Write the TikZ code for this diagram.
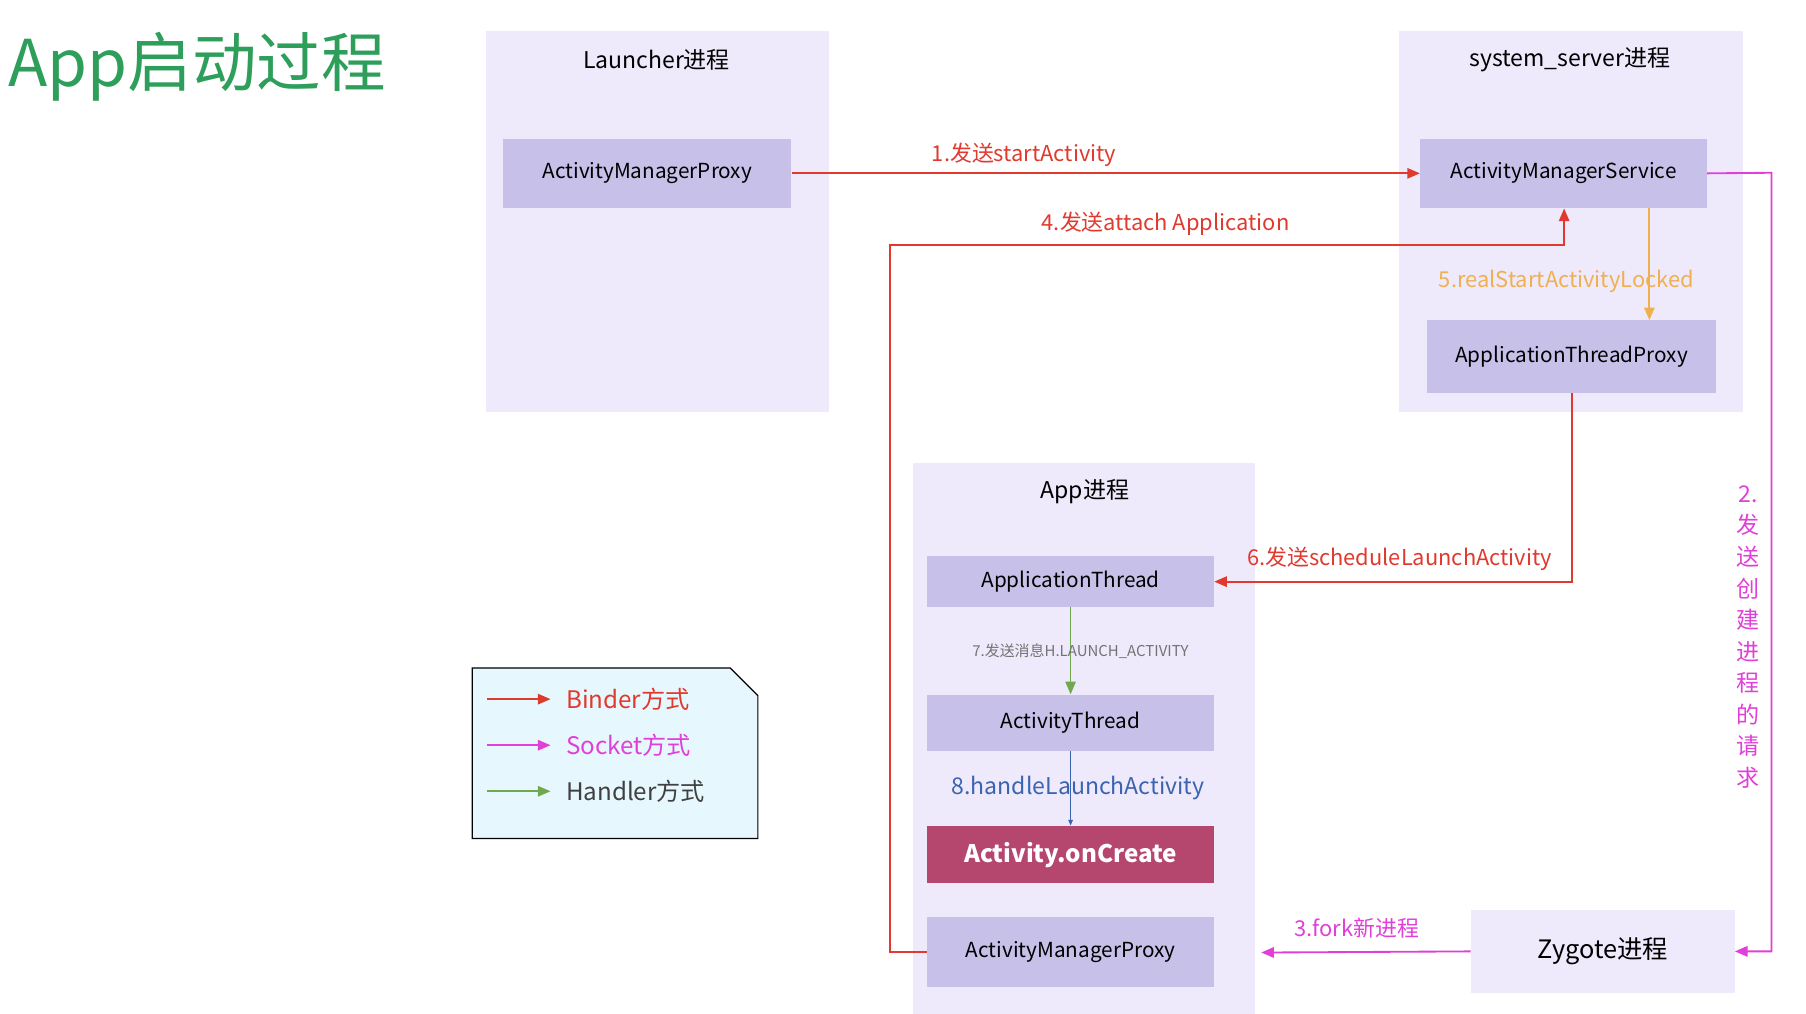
\documentclass[tikz,border=0pt]{standalone}
\usepackage{fontspec}
\setmainfont{Noto Sans CJK SC}
\usetikzlibrary{arrows.meta,shapes.misc}
\definecolor{proc}{HTML}{EEEAFB}
\definecolor{comp}{HTML}{C7C1EA}
\definecolor{bred}{HTML}{E03A2F}
\definecolor{mag}{HTML}{E040D8}
\definecolor{hgreen}{HTML}{6FA84F}
\definecolor{orng}{HTML}{F0B050}
\definecolor{hblue}{HTML}{3A63B0}
\definecolor{ttl}{HTML}{2E9E5B}
\definecolor{crt}{HTML}{B5476F}
\begin{document}
\begin{tikzpicture}[x=1pt,y=-1pt,
  box/.style={fill=proc,draw=none},
  comp/.style={fill=comp,draw=none,minimum height=60pt,minimum width=250pt,font=\fontsize{18}{20}\selectfont},
  ttl/.style={font=\fontsize{20}{22}\selectfont},
  arr/.style={-{Triangle[length=11pt,width=9pt]},line width=1.6pt},
  lbl/.style={font=\fontsize{19}{21}\selectfont}]
\useasboundingbox (0,0) rectangle (1568,880);
\fill[white] (0,0) rectangle (1568,880);
\node[text=ttl,font=\fontsize{56}{60}\selectfont,anchor=west] (title) at (4,58) {App启动过程};
% process boxes
\fill[proc] (422,27) rectangle (720,358);
\node[ttl] (l1) at (570,52) {Launcher进程};
\fill[proc] (1215,27) rectangle (1513,358);
\node[ttl] (l2) at (1363,52) {system\_server进程};
\fill[proc] (793,402) rectangle (1090,880);
\node[ttl] (l3) at (942,427) {App进程};
% components
\node[comp] (amp) at (562,150.5) {ActivityManagerProxy};
\node[comp,minimum width=249pt] (ams) at (1357.5,150.5) {ActivityManagerService};
\node[comp,minimum width=251pt,minimum height=63pt] (atp) at (1364.5,309.5) {ApplicationThreadProxy};
\node[comp,minimum width=249pt,minimum height=44pt] (at) at (929.5,505) {ApplicationThread};
\node[comp,minimum width=249pt,minimum height=49pt] (act) at (929.5,627.5) {ActivityThread};
\node[comp,fill=crt,text=white,minimum width=249pt,minimum height=50pt,font=\fontsize{21}{23}\selectfont\bfseries] (cr) at (929.5,742) {Activity.onCreate};
\node[comp,minimum width=249pt,minimum height=61pt] (amp2) at (929.5,826.5) {ActivityManagerProxy};
\node[fill=proc,minimum width=229pt,minimum height=72pt,font=\fontsize{22}{24}\selectfont] (zy) at (1391.5,826) {Zygote进程};
% arrows
\draw[arr,bred] (amp.east) -- (ams.west) node[pos=0.37,above=2pt,lbl,text=bred] {1.发送startActivity};
\coordinate (c4) at (1358,181);
\draw[arr,bred] (amp2.west) -- ++(-32,0) |- (1358,213) -- (c4);
\node[lbl,text=bred] (t4) at (1012,194) {4.发送attach Application};
\coordinate (c5a) at (1432,181);
\coordinate (c5b) at (1432,278);
\draw[arr,orng] (c5a) -- (c5b);
\node[lbl,text=orng] (t5) at (1360,244) {5.realStartActivityLocked};
\draw[arr,bred] (atp.south) |- (at.east);
\node[lbl,text=bred] (t6) at (1215,485) {6.发送scheduleLaunchActivity};
\draw[arr,hgreen,line width=1.2pt] (at.south) -- (act.north);
\node[font=\fontsize{13}{15}\selectfont,text=gray!90!black] (t7) at (938,565) {7.发送消息H.LAUNCH\_ACTIVITY};
\draw[-{Triangle[length=5pt,width=4pt]},hblue,line width=0.8pt] (act.south) -- (cr.north);
\node[font=\fontsize{20}{22}\selectfont,text=hblue] (t8) at (936,684) {8.handleLaunchActivity};
\coordinate (c2) at (1538,150);
\draw[arr,mag] (ams.east) -- (c2) |- (zy.east);
\node[text=mag,font=\fontsize{20}{27.4}\selectfont,align=center] (t2) at (1518,553) {2.\\发\\送\\创\\建\\进\\程\\的\\请\\求};
\coordinate (c3) at (1095,827);
\draw[arr,mag] (zy.west) -- (c3);
\node[lbl,text=mag] (t3) at (1178,806) {3.fork新进程};
% legend
\draw[fill=cyan!10!white,line width=1pt] (410,580) -- (634,580) -- (658,604) -- (658,728) -- (410,728) -- cycle;
\coordinate (la1) at (423,607); \coordinate (lb1) at (478,607);
\coordinate (la2) at (423,647); \coordinate (lb2) at (478,647);
\coordinate (la3) at (423,687); \coordinate (lb3) at (478,687);
\draw[arr,bred] (la1) -- (lb1);
\draw[arr,mag] (la2) -- (lb2);
\draw[arr,hgreen] (la3) -- (lb3);
\node[anchor=west,text=bred,font=\fontsize{21}{23}\selectfont] (g1) at (488,607) {Binder方式};
\node[anchor=west,text=mag,font=\fontsize{21}{23}\selectfont] (g2) at (488,647) {Socket方式};
\node[anchor=west,text=black!75,font=\fontsize{21}{23}\selectfont] (g3) at (488,687) {Handler方式};
\end{tikzpicture}
\end{document}
